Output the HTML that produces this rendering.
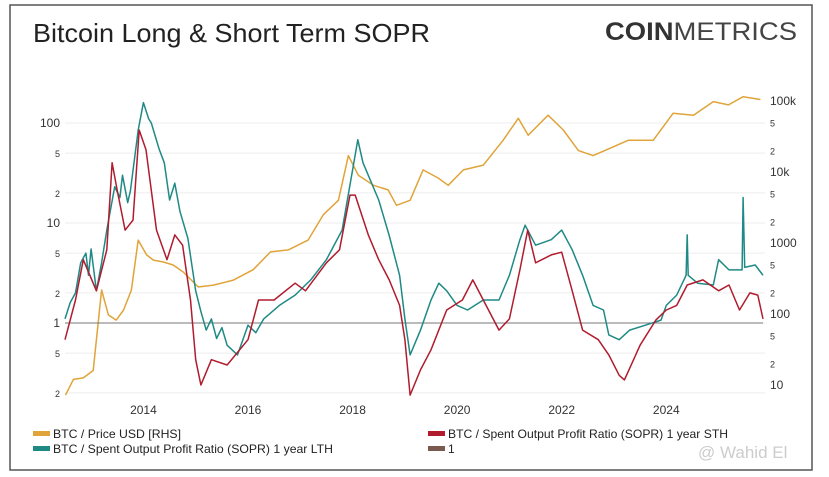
<!DOCTYPE html>
<html><head><meta charset="utf-8"><style>
body{margin:0;background:#fff;}
svg{display:block;font-family:"Liberation Sans",sans-serif;}
</style></head><body>
<svg id="chart" width="829" height="477" viewBox="0 0 829 477" xmlns="http://www.w3.org/2000/svg">
<rect x="10" y="5" width="802" height="465" fill="#fff" stroke="#555" stroke-width="1.5"/>
<text x="33" y="42" font-size="26" fill="#222" textLength="397" lengthAdjust="spacingAndGlyphs">Bitcoin Long &amp; Short Term SOPR</text>
<text x="605" y="40" font-size="25" fill="#333" textLength="192" lengthAdjust="spacingAndGlyphs"><tspan font-weight="bold">COIN</tspan><tspan font-weight="normal" fill="#444">METRICS</tspan></text>
<g id="grid"></g>
<g id="axes"></g>
<g id="series"></g>
<g id="legend">
<rect x="33" y="431" width="17" height="5" fill="#e0a43a"/>
<text x="53" y="438" font-size="12" fill="#222" textLength="128" lengthAdjust="spacingAndGlyphs">BTC / Price USD [RHS]</text>
<rect x="33" y="446" width="17" height="5" fill="#1f8a85"/>
<text x="53" y="453" font-size="12" fill="#222" textLength="280" lengthAdjust="spacingAndGlyphs">BTC / Spent Output Profit Ratio (SOPR) 1 year LTH</text>
<rect x="428" y="431" width="17" height="5" fill="#b01c2e"/>
<text x="448" y="438" font-size="12" fill="#222" textLength="280" lengthAdjust="spacingAndGlyphs">BTC / Spent Output Profit Ratio (SOPR) 1 year STH</text>
<rect x="428" y="446" width="17" height="5" fill="#7a5a4e"/>
<text x="448" y="453" font-size="12" fill="#222">1</text>
</g>
<text x="698" y="458" font-size="17" fill="#ccc">@ Wahid El</text>
</svg>
<script>
const lthYears=[2012.5,2012.6,2012.7,2012.8,2012.9,2012.95,2013.0,2013.1,2013.2,2013.3,2013.45,2013.55,2013.6,2013.7,2013.75,2013.9,2014.0,2014.1,2014.15,2014.3,2014.4,2014.5,2014.6,2014.7,2014.85,2015.0,2015.1,2015.2,2015.3,2015.4,2015.5,2015.6,2015.8,2016.0,2016.15,2016.3,2016.6,2016.9,2017.2,2017.5,2017.8,2018.0,2018.1,2018.2,2018.3,2018.5,2018.7,2018.9,2019.0,2019.1,2019.3,2019.5,2019.65,2019.8,2020.0,2020.2,2020.5,2020.8,2021.0,2021.2,2021.3,2021.5,2021.8,2022.0,2022.2,2022.4,2022.6,2022.8,2022.9,2023.1,2023.3,2023.6,2023.9,2024.0,2024.2,2024.38,2024.4,2024.42,2024.6,2024.9,2025.0,2025.2,2025.45,2025.47,2025.5,2025.7,2025.85];
const lthValues=[1.1,1.6,2,4,5,3,5.5,2.1,4,8.5,23,18,30,16,21,85,160,110,100,55,40,17,25,13,7,2.1,1.3,0.85,1.1,0.7,0.9,0.6,0.48,0.95,0.8,1.1,1.5,1.9,2.7,4.3,8.5,34,68,40,30,17,7.5,3,1.1,0.48,0.85,1.7,2.5,2.1,1.5,1.35,1.7,1.7,3,6.8,9.5,6,6.8,8.5,5.4,3,1.5,1.35,0.76,0.68,0.85,0.95,1.07,1.5,1.9,3,7.6,3,2.5,2.4,4.3,3.4,3.4,18,3.6,3.8,3];
const sthYears=[2012.5,2012.7,2012.85,2013.1,2013.3,2013.4,2013.5,2013.65,2013.8,2013.92,2014.05,2014.25,2014.45,2014.6,2014.75,2014.9,2015.0,2015.1,2015.3,2015.6,2016.0,2016.2,2016.5,2016.9,2017.1,2017.5,2017.75,2017.95,2018.05,2018.3,2018.5,2018.7,2018.9,2019.0,2019.1,2019.3,2019.5,2019.8,2020.1,2020.3,2020.6,2020.8,2021.0,2021.2,2021.35,2021.5,2021.8,2022.0,2022.2,2022.4,2022.7,2022.9,2023.1,2023.2,2023.5,2023.8,2024.0,2024.2,2024.4,2024.7,2025.0,2025.2,2025.4,2025.6,2025.75,2025.85];
const sthValues=[0.68,1.7,4.3,2.1,5.4,40,21,8.5,10.7,85,54,8.5,4.3,7.6,6,1.7,0.43,0.24,0.43,0.38,0.68,1.7,1.7,2.5,2.1,4,5.4,19,19,7.6,4.3,2.7,1.5,0.68,0.19,0.34,0.54,1.35,1.7,2.7,1.35,0.85,1.1,3.4,8.5,4,4.8,5.1,2.1,0.85,0.68,0.48,0.3,0.27,0.6,1.07,1.35,1.5,2.4,2.7,2.1,2.4,1.35,2.0,1.9,1.1];
const priceYears=[2012.51,2012.66,2012.85,2013.04,2013.2,2013.33,2013.48,2013.62,2013.77,2013.9,2014.06,2014.19,2014.38,2014.57,2014.76,2015.05,2015.34,2015.72,2016.1,2016.43,2016.77,2017.15,2017.44,2017.73,2017.92,2018.11,2018.4,2018.68,2018.84,2019.1,2019.35,2019.64,2019.83,2020.12,2020.5,2020.88,2021.17,2021.36,2021.74,2022.03,2022.32,2022.6,2022.89,2023.27,2023.75,2024.13,2024.52,2024.9,2025.19,2025.47,2025.8];
const priceValues=[7.2,12,12.6,16,218,97,82,114,218,1100,680,575,540,490,390,240,255,300,420,750,800,1100,2500,4000,17000,9000,6500,5600,3400,4000,10700,8200,6500,10700,12500,28000,57000,33000,63000,39000,20000,17000,21000,28000,28000,67000,63000,98000,88000,115000,105000];
const xTicks=[2014,2016,2018,2020,2022,2024];
const leftTicks=[100,50,20,10,5,2,1,0.5,0.2];
const leftLabels=["100","5","2","10","5","2","1","5","2"];
const rightTicks=[100000,50000,20000,10000,5000,2000,1000,500,200,100,50,20,10];
const rightLabels=["100k","5","2","10k","5","2","1000","5","2","100","5","2","10"];

const NS="http://www.w3.org/2000/svg";
const X0=65,X1=763,Y0=2012.5,Y1=2025.85;
const x=t=>X0+(t-Y0)/(Y1-Y0)*(X1-X0);
const yL=v=>323-100*Math.log10(v);
const yR=v=>314-71*Math.log10(v/100);
function el(tag,attrs,parent){const e=document.createElementNS(NS,tag);for(const k in attrs)e.setAttribute(k,attrs[k]);parent.appendChild(e);return e;}
const grid=document.getElementById('grid'),axes=document.getElementById('axes'),series=document.getElementById('series');
leftTicks.forEach((v,i)=>{
  const g=el('line',{x1:X0,x2:X1+2,y1:yL(v),y2:yL(v),stroke:'#eee','stroke-width':1},grid);
  
  
  const big=leftLabels[i].length>1||leftLabels[i]==="1";
  const t=el('text',{x:60,y:yL(v)+4,'text-anchor':'end','font-size':big?12:9,fill:'#333'},axes);
  t.textContent=leftLabels[i];
  
  
});
rightTicks.forEach((v,i)=>{
  const big=rightLabels[i].length>1;
  const t=el('text',{x:770,y:yR(v)+4,'font-size':big?12:9,fill:'#333'},axes);
  t.textContent=rightLabels[i];
  
  
});
xTicks.forEach(yr=>{
  const t=el('text',{x:x(yr),y:414,'text-anchor':'middle','font-size':12,fill:'#333'},axes);
  t.textContent=String(yr);
  
  
});
function line(xs,vs,yf,color,name){
  const d=xs.map((t,i)=>(i?'L':'M')+x(t).toFixed(1)+','+yf(vs[i]).toFixed(1)).join('');
  const p=el('path',{d:d,fill:'none',stroke:color,'stroke-width':1.5,'stroke-linejoin':'round'},series);
  
  
}
line(priceYears,priceValues,yR,'#e0a43a','price-line');
const one=el('line',{x1:X0,x2:X1,y1:yL(1),y2:yL(1),stroke:'#777','stroke-width':1},series);


line(lthYears,lthValues,yL,'#1f8a85','lth-sopr-line');
line(sthYears,sthValues,yL,'#b01c2e','sth-sopr-line');
</script>
</body></html>
